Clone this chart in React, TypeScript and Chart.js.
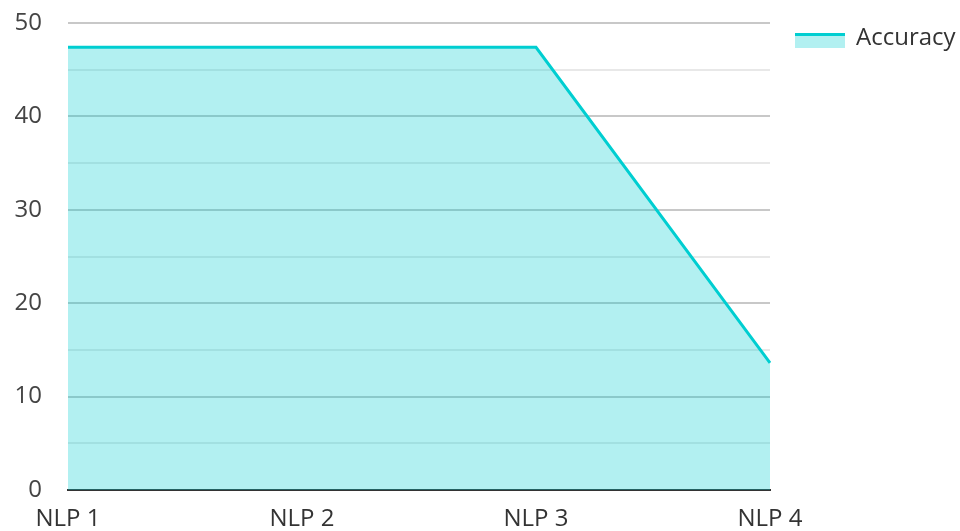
import React, { useEffect, useRef } from "react";
import { Chart, registerables } from "chart.js";

Chart.register(...registerables);

const categories = ["NLP 1", "NLP 2", "NLP 3", "NLP 4"];
const accuracy = [47.4, 47.4, 47.4, 13.6];
const seriesName = "Accuracy";
const yMin = 0;
const yMax = 50;
const yStep = 5;
const yLabelEvery = 10;

const LINE = "#00CED1";
const FILL = "rgba(0,206,209,0.3)";
const FONT = "'Open Sans', 'Noto Sans', sans-serif";

const legendPlugin = {
  id: "customLegend",
  afterDraw(chart: any) {
    const ctx = chart.ctx;
    const area = chart.chartArea;
    const x = area.right + 25;
    const y = area.top + 10;
    ctx.save();
    ctx.fillStyle = FILL;
    ctx.fillRect(x, y, 50, 15);
    ctx.fillStyle = LINE;
    ctx.fillRect(x, y, 50, 3);
    ctx.fillStyle = "#333";
    ctx.font = `24px ${FONT}`;
    ctx.textBaseline = "alphabetic";
    ctx.textAlign = "left";
    ctx.fillText(seriesName, x + 61, y + 12);
    ctx.restore();
  },
};

export default function App() {
  const ref = useRef<HTMLCanvasElement>(null);
  useEffect(() => {
    if (!ref.current) return;
    const chart = new Chart(ref.current, {
      type: "line",
      data: {
        labels: categories,
        datasets: [
          {
            label: seriesName,
            data: accuracy,
            borderColor: LINE,
            backgroundColor: FILL,
            borderWidth: 3,
            fill: "origin",
            pointRadius: 0,
            tension: 0,
          },
        ],
      },
      plugins: [legendPlugin],
      options: {
        animation: false,
        responsive: true,
        maintainAspectRatio: false,
        layout: { padding: { top: 23, right: 190, bottom: 0, left: 0 } },
        plugins: {
          legend: { display: false },
          tooltip: { enabled: false },
        },
        scales: {
          x: {
            offset: false,
            grid: { display: false, drawTicks: false },
            border: { display: true, color: "#333", width: 2 },
            ticks: {
              color: "#333",
              font: { family: FONT, size: 24 },
              padding: 15,
              maxRotation: 0,
            },
            afterFit: (axis: any) => {
              axis.height = 41;
              axis.paddingLeft = 0;
              axis.paddingRight = 0;
            },
          },
          y: {
            min: yMin,
            max: yMax,
            grid: {
              drawTicks: false,
              lineWidth: 2,
              color: (c: any) =>
                c.tick && c.tick.value % yLabelEvery === 0 ? "#c8c8c8" : "#e8e8e8",
            },
            border: { display: false },
            ticks: {
              stepSize: yStep,
              color: "#444",
              font: { family: FONT, size: 24 },
              padding: 26,
              callback: (v: any) => (Number(v) % yLabelEvery === 0 ? String(v) : ""),
            },
            afterFit: (axis: any) => {
              axis.width = 68;
              axis.paddingTop = 0;
              axis.paddingBottom = 0;
            },
          },
        },
      },
    });
    return () => chart.destroy();
  }, []);
  return (
    <div style={{ position: "fixed", left: 0, top: 0, width: 960, height: 531 }}>
      <canvas ref={ref} />
    </div>
  );
}
